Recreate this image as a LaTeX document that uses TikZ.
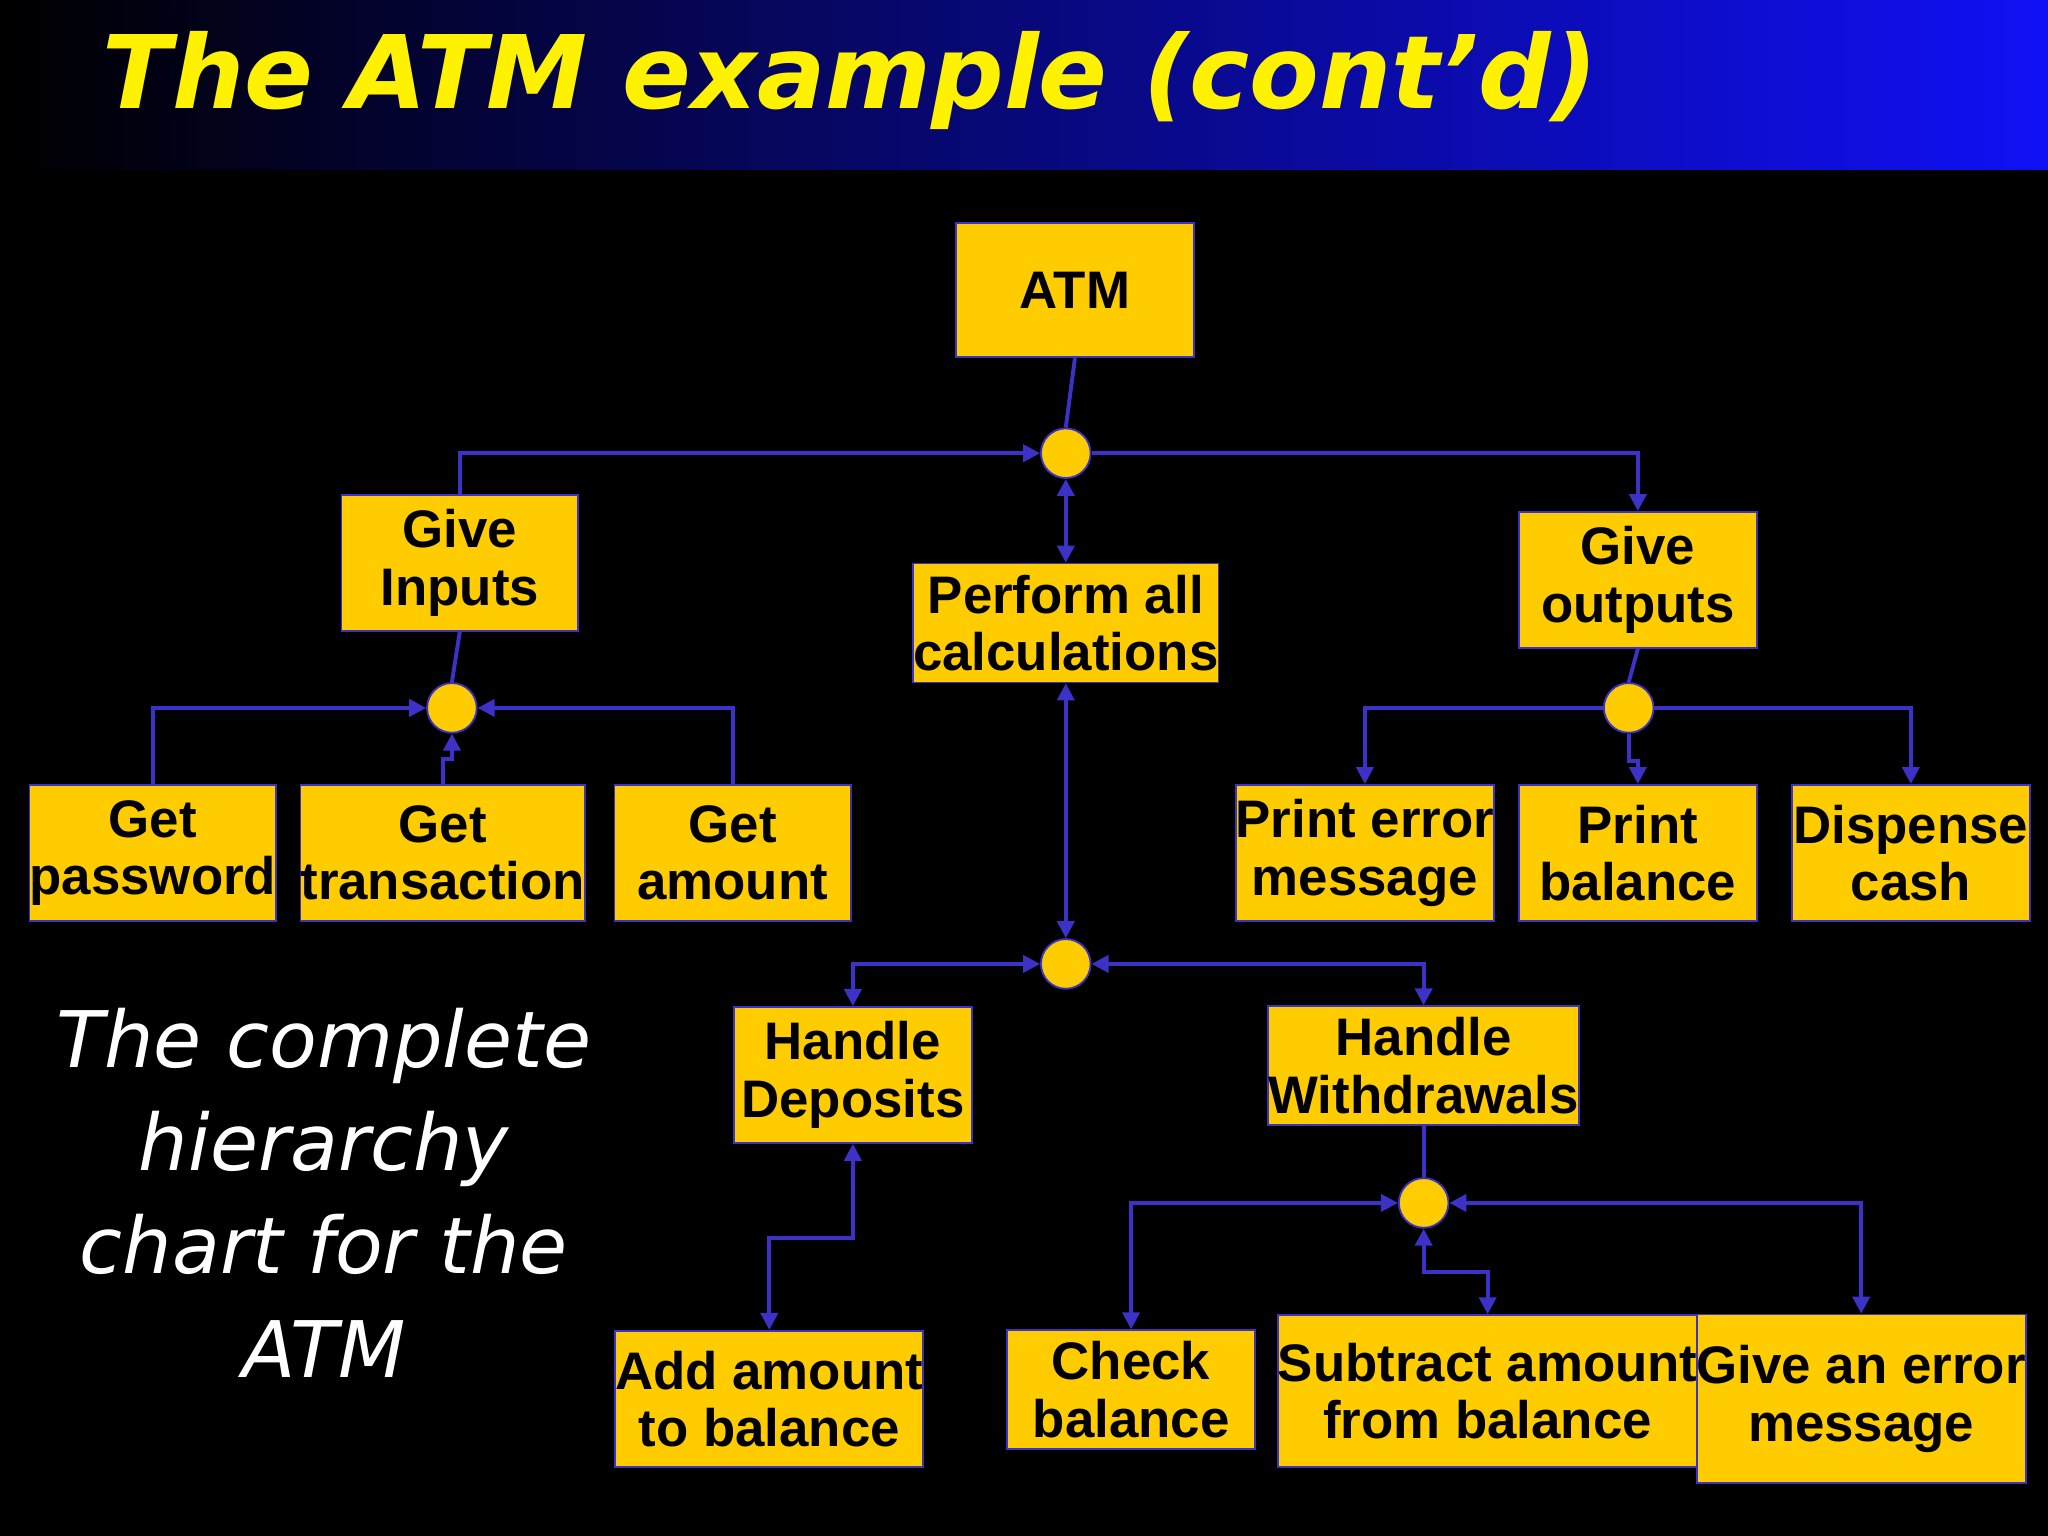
\documentclass[tikz,border=0pt]{standalone}
\usepackage{fontspec}
\setmainfont{Liberation Sans}
\newfontfamily\titlefont{DejaVu Sans}
\usetikzlibrary{arrows.meta}
\definecolor{boxfill}{RGB}{255,204,0}
\definecolor{linkblue}{RGB}{60,50,200}
\definecolor{barblue}{RGB}{16,16,245}
\tikzset{
  box/.style={draw=linkblue, line width=0.4pt, fill=boxfill, align=center,
    font=\bfseries\fontsize{11.5}{12.5}\selectfont, inner sep=0pt},
  hub/.style={circle, draw=linkblue, line width=0.4pt, fill=boxfill, minimum size=0.38cm, inner sep=0pt},
  link/.style={draw=linkblue, line width=0.85pt},
  tip/.style={-{Triangle[length=0.13cm,width=0.13cm]}},
  tips/.style={{Triangle[length=0.13cm,width=0.13cm]}-{Triangle[length=0.13cm,width=0.13cm]}}
}
\begin{document}
\begin{tikzpicture}[x=0.01cm, y=-0.01cm]
\fill[black] (0,0) rectangle (1568,1176);
\shade[left color=black, right color=barblue] (0,0) rectangle (1568,130);
\node[anchor=west, text=yellow, inner sep=0pt] (title) at (78,62)
  {\resizebox{11.44cm}{!}{\titlefont\bfseries\itshape The ATM example (cont’d)}};

% boxes
\node[box, minimum width=1.82cm, minimum height=1.03cm] (atm) at (823,222) {ATM};
\node[box, minimum width=1.81cm, minimum height=1.04cm] (inputs) at (352,431) {Give\\Inputs};
\node[box, minimum width=2.21cm, minimum height=0.91cm] (calc) at (816,477) {Perform all\\calculations};
\node[box, minimum width=1.82cm, minimum height=1.04cm] (outputs) at (1254,444) {Give\\outputs};
\node[box, minimum width=1.82cm, minimum height=1.04cm] (pass) at (117,653) {Get\\password};
\node[box, minimum width=2.08cm, minimum height=1.04cm] (trans) at (339,653) {Get\\transaction};
\node[box, minimum width=1.81cm, minimum height=1.04cm] (amount) at (561,653) {Get\\amount};
\node[box, minimum width=1.82cm, minimum height=1.04cm] (perr) at (1045,653) {Print error\\message};
\node[box, minimum width=1.82cm, minimum height=1.04cm] (pbal) at (1254,653) {Print\\balance};
\node[box, minimum width=1.82cm, minimum height=1.04cm] (cash) at (1463,653) {Dispense\\cash};
\node[box, minimum width=1.82cm, minimum height=1.04cm] (dep) at (653,823) {Handle\\Deposits};
\node[box, minimum width=2.20cm, minimum height=0.91cm] (wd) at (1090,816) {Handle\\Withdrawals};
\node[box, minimum width=2.10cm, minimum height=1.04cm] (add) at (589,1071) {Add amount\\to balance};
\node[box, minimum width=1.90cm, minimum height=0.91cm] (check) at (866,1064) {Check\\balance};
\node[box, minimum width=2.92cm, minimum height=1.16cm] (sub) at (1139,1065) {Subtract amount\\from balance};
\node[box, minimum width=2.37cm, minimum height=1.29cm] (gerr) at (1425,1071) {Give an error\\message};

% hubs
\node[hub] (h1) at (816,347) {};
\node[hub] (h2) at (346,542) {};
\node[hub] (h3) at (1247,542) {};
\node[hub] (h4) at (816,738) {};
\node[hub] (h5) at (1090,921) {};

% connectors
\draw[link] (atm.south) -- (h1.north);
\draw[link, tip] (inputs.north) |- (h1.west);
\draw[link, tip] (h1.east) -| (outputs.north);
\draw[link, tips] (h1.south) -- (calc.north);

\draw[link] (inputs.south) -- (h2.north);
\draw[link, tip] (pass.north) |- (h2.west);
\draw[link, tip] (trans.north) -- ++(0,-19) -| (h2.south);
\draw[link, tip] (amount.north) |- (h2.east);

\draw[link] (outputs.south) -- (h3.north);
\draw[link, tip] (h3.west) -| (perr.north);
\draw[link, tip] (h3.south) -- ++(0,21) -| (pbal.north);
\draw[link, tip] (h3.east) -| (cash.north);

\draw[link, tips] (calc.south) -- (h4.north);
\draw[link, tips] (h4.west) -| (dep.north);
\draw[link, tips] (h4.east) -| (wd.north);

\draw[link, tips] (dep.south) -- ++(0,72) -| (add.north);

\draw[link] (wd.south) -- (h5.north);
\draw[link, tips] (h5.west) -| (check.north);
\draw[link, tips] (h5.south) -- ++(0,33) -| (sub.north);
\draw[link, tips] (h5.east) -| (gerr.north);

% caption
\node[text=white, align=center, font=\titlefont\itshape\fontsize{17}{22.5}\selectfont] (cap) at (248,913)
  {The complete\\hierarchy\\chart for the\\ATM};
\end{tikzpicture}
\end{document}
